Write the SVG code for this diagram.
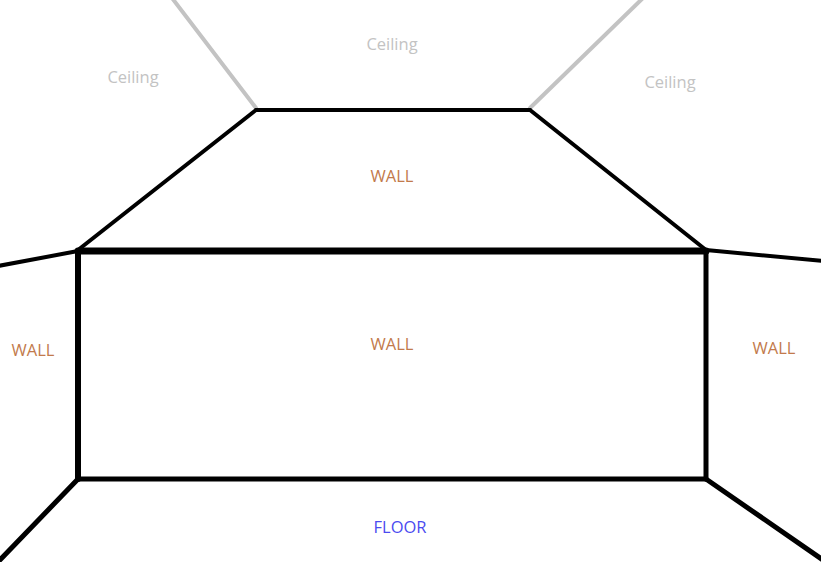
<svg xmlns="http://www.w3.org/2000/svg" width="821" height="562" viewBox="0 0 821 562">
<style>
.g{stroke:#c3c3c3;stroke-width:4;fill:none;stroke-linecap:round}
.k{stroke:#000;fill:none;stroke-linecap:round;stroke-linejoin:round}
text{font-family:"Open Sans","Noto Sans",sans-serif;font-size:16.5px;text-anchor:middle}
.c{fill:#c3c3c3}
.w{fill:#c27a4c}
.f{fill:#4b4bf0}
</style>
<rect width="821" height="562" fill="#fff"/>
<g id="ceiling-lines">
<path class="g" d="M172 -2 L256 108"/>
<path class="g" d="M643 -2 L530 108"/>
</g>
<g id="walls">
<path class="k" stroke-width="4" d="M256 110 L530 110"/>
<path class="k" stroke-width="4" d="M256 110 L78 250"/>
<path class="k" stroke-width="4" d="M530 110 L706 250"/>
<path class="k" stroke-width="7" d="M78 251 L706 251"/>
<path class="k" stroke-width="6" d="M78 251 L78 479"/>
<path class="k" stroke-width="5" d="M706 251 L706 479"/>
<path class="k" stroke-width="5" d="M78 479 L706 479"/>
<path class="k" stroke-width="4" d="M-2 266 L78 251"/>
<path class="k" stroke-width="4" d="M706 250 L823 261"/>
<path class="k" stroke-width="5" d="M78 479 L-2 562"/>
<path class="k" stroke-width="5" d="M706 479 L823 560"/>
</g>
<g id="labels">
<text class="c" x="392" y="50">Ceiling</text>
<text class="c" x="133" y="83">Ceiling</text>
<text class="c" x="670" y="88">Ceiling</text>
<text class="w" x="392" y="182">WALL</text>
<text class="w" x="392" y="350">WALL</text>
<text class="w" x="33" y="356">WALL</text>
<text class="w" x="774" y="354">WALL</text>
<text class="f" x="400" y="533">FLOOR</text>
</g>
</svg>
